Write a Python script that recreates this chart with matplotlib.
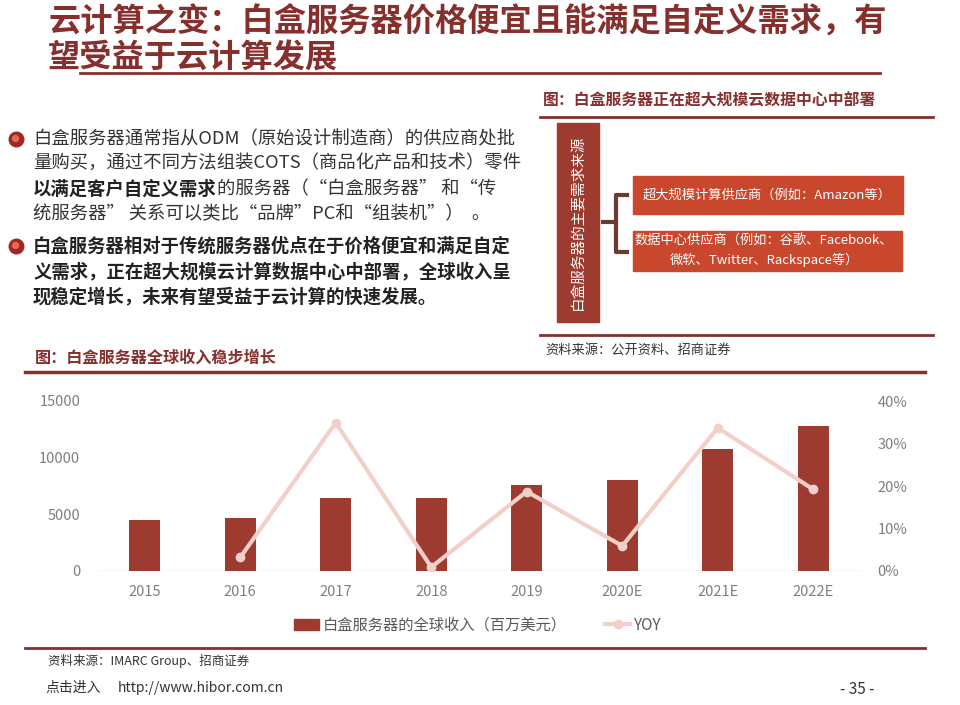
import matplotlib
matplotlib.use("Agg")
import matplotlib.pyplot as plt
from matplotlib.patches import Rectangle, Patch
from matplotlib.lines import Line2D

plt.rcParams['font.family'] = ['Noto Sans CJK SC', 'DejaVu Sans']

# ---- data ----
years = ['2015', '2016', '2017', '2018', '2019', '2020E', '2021E', '2022E']
revenue = [4500, 4700, 6400, 6400, 7600, 8000, 10800, 12800]
yoy_years = ['2016', '2017', '2018', '2019', '2020E', '2021E', '2022E']
yoy = [0.032, 0.349, 0.009, 0.187, 0.059, 0.337, 0.192]

title1 = '云计算之变：白盒服务器价格便宜且能满足自定义需求，有'
title2 = '望受益于云计算发展'
bullet1 = ['白盒服务器通常指从ODM（原始设计制造商）的供应商处批',
           '量购买，通过不同方法组装COTS（商品化产品和技术）零件']
bullet1_bold = '以满足客户自定义需求'
bullet1_rest = '的服务器（“白盒服务器” 和“传'
bullet1_last = '统服务器” 关系可以类比“品牌”PC和“组装机”）  。'
bullet2 = ['白盒服务器相对于传统服务器优点在于价格便宜和满足自定',
           '义需求，正在超大规模云计算数据中心中部署，全球收入呈',
           '现稳定增长，未来有望受益于云计算的快速发展。']

DARK = '#862f2c'
BAR = '#9e3b30'
BOX = '#c9472c'
LINE = '#f2cfc8'
GRAY = '#7f7f7f'
TXT = '#333333'

fig = plt.figure(figsize=(9.6, 7.05), dpi=100)
fig.patch.set_facecolor('white')

# page layer in pixel coordinates
ax0 = fig.add_axes([0, 0, 1, 1])
ax0.set_xlim(0, 960)
ax0.set_ylim(705, 0)
ax0.axis('off')

# title
ax0.text(48, 22, title1, fontsize=23.2, fontweight='bold', color=DARK, va='center', ha='left')
ax0.text(48, 58, title2, fontsize=23.2, fontweight='bold', color=DARK, va='center', ha='left')
ax0.plot([80, 880], [73, 73], color=DARK, lw=2)

# bullets
for by in [139, 246]:
    ax0.scatter([16], [by], s=110, color='#a3261f', zorder=3)
    ax0.scatter([14.5], [by - 1.5], s=18, color='#e87a6c', zorder=4, alpha=0.8)

fs = 13.2
ax0.text(33, 139, bullet1[0], fontsize=fs, color=TXT, va='center')
ax0.text(33, 164, bullet1[1], fontsize=fs, color=TXT, va='center')
tb = ax0.text(33, 189, bullet1_bold, fontsize=fs, color='#222222', fontweight='bold', va='center')
ax0.annotate(bullet1_rest, xy=(1, 0.5), xycoords=tb, fontsize=fs, color=TXT, va='center', ha='left')
ax0.text(33, 214, bullet1_last, fontsize=fs, color=TXT, va='center')
for i, line in enumerate(bullet2):
    ax0.text(33, 246 + i * 25.5, line, fontsize=fs, color='#222222', fontweight='bold', va='center')

# right figure: diagram
ax0.text(543, 100, '图：白盒服务器正在超大规模云数据中心中部署', fontsize=11.4, fontweight='bold',
         color=DARK, va='center')
ax0.plot([540, 933], [117, 117], color=DARK, lw=2)
ax0.add_patch(Rectangle((557, 123), 42, 199, color=BAR))
ax0.text(578, 222, '白盒服务器的主要需求来源', fontsize=10.5, color='white', rotation=90,
         va='center', ha='center')
ax0.plot([627, 616, 616, 627], [195, 195, 252, 252], color='#6b3a32', lw=3)
ax0.plot([603, 616], [222, 222], color='#6b3a32', lw=3)
ax0.add_patch(Rectangle((633, 176), 270, 38, color=BOX))
ax0.add_patch(Rectangle((633, 231), 269, 40, color=BOX))
ax0.text(767, 195, '超大规模计算供应商（例如：Amazon等）', fontsize=9.5, color='white',
         va='center', ha='center')
ax0.text(764, 241, '数据中心供应商（例如：谷歌、Facebook、', fontsize=9.5, color='white',
         va='center', ha='center')
ax0.text(764, 260, '微软、Twitter、Rackspace等）', fontsize=9.5, color='white',
         va='center', ha='center')
ax0.plot([540, 933], [335, 335], color=DARK, lw=2)
ax0.text(545, 350, '资料来源：公开资料、招商证券', fontsize=9.5, color=TXT, va='center')

# bar chart caption
ax0.text(35, 358, '图：白盒服务器全球收入稳步增长', fontsize=11.6, fontweight='bold', color=DARK,
         va='center')
ax0.plot([25, 925], [372, 372], color=DARK, lw=2.5)

# bottom
ax0.plot([25, 925], [648, 648], color=DARK, lw=2)
ax0.text(48, 661, '资料来源：IMARC Group、招商证券', fontsize=9, color=TXT, va='center')
ax0.text(45, 688, '点击进入', fontsize=10, color=TXT, va='center')
ax0.text(118, 688, 'http://www.hibor.com.cn', fontsize=10, color=TXT, va='center')
ax0.text(875, 690, '- 35 -', fontsize=11, color=TXT, va='center', ha='right')

# ---- chart ----
ax = fig.add_axes([97 / 960, (705 - 571) / 705, (861 - 97) / 960, (571 - 401) / 705])
x = list(range(len(years)))
ax.bar(x, revenue, width=0.32, color=BAR, zorder=2)
ax.set_xlim(-0.5, len(years) - 0.5)
ax.set_ylim(0, 15000)
ax.set_yticks([0, 5000, 10000, 15000])
ax.set_xticks(x)
ax.set_xticklabels(years)
for s in ax.spines.values():
    s.set_visible(False)
ax.axhline(0, color='#d9d9d9', lw=1, zorder=1)
ax.tick_params(axis='both', length=0, colors=GRAY, labelsize=10.5)
ax.tick_params(axis='y', pad=12)
ax.tick_params(axis='x', pad=10)
ax.patch.set_alpha(0)

ax2 = ax.twinx()
xi = [years.index(y) for y in yoy_years]
ax2.plot(xi, yoy, color=LINE, lw=3, marker='o', markersize=6, zorder=3)
ax2.set_ylim(0, 0.40)
ax2.set_yticks([0, 0.1, 0.2, 0.3, 0.4])
ax2.set_yticklabels(['0%', '10%', '20%', '30%', '40%'])
for s in ax2.spines.values():
    s.set_visible(False)
ax2.tick_params(axis='y', length=0, colors=GRAY, labelsize=10.5, pad=12)

handles = [Patch(color=BAR), Line2D([0], [0], color=LINE, lw=3, marker='o', markersize=6)]
fig.legend(handles, ['白盒服务器的全球收入（百万美元）', 'YOY'], loc='center',
           bbox_to_anchor=(478 / 960, 1 - 625 / 705), ncol=2, frameon=False, fontsize=11,
           labelcolor='#595959', columnspacing=2.5, handlelength=1.6, handletextpad=0.3)

fig.savefig('out.png', dpi=100)
